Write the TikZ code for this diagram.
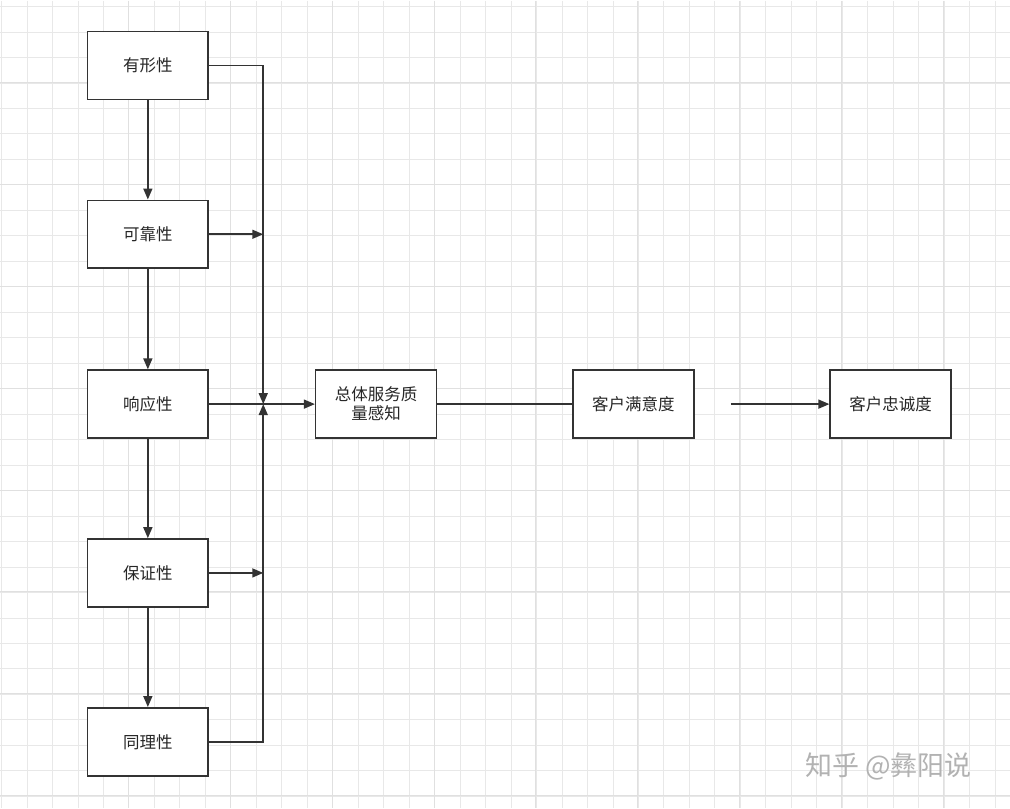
\documentclass[tikz,border=0pt]{standalone}
\usepackage{fontspec}
\setmainfont{Noto Sans CJK SC}
\usetikzlibrary{arrows.meta}
\begin{document}
\begin{tikzpicture}[x=1pt,y=-1pt,
  box/.style={draw=black!80,line width=1.6pt,fill=white,minimum width=121pt,minimum height=68pt,inner sep=0pt,align=center,font=\fontsize{16.5}{19}\selectfont,text=black!85},
  ln/.style={draw=black!80,line width=1.6pt},
  ar/.style={ln,-{Triangle[length=11pt,width=9pt]}}]
\fill[white] (0,0) rectangle (1010,808);
\foreach \x in {1,26.5,...,1010} \draw[black!9,line width=0.8pt] (\x,0) -- (\x,808);
\foreach \y in {6,31.5,...,808} \draw[black!9,line width=0.8pt] (0,\y) -- (1010,\y);
\foreach \x in {128,230,...,1010} \draw[black!12,line width=1pt] (\x,0) -- (\x,808);
\foreach \y in {82,184,...,808} \draw[black!12,line width=1pt] (0,\y) -- (1010,\y);
\useasboundingbox (0,0) rectangle (1010,808);
\node[box] (a) at (147.5,65) {有形性};
\node[box] (b) at (147.5,234) {可靠性};
\node[box] (c) at (147.5,404) {响应性};
\node[box] (d) at (147.5,573) {保证性};
\node[box] (e) at (147.5,742) {同理性};
\node[box] (t) at (376,404) {总体服务质\\量感知};
\node[box] (s) at (633.5,404) {客户满意度};
\node[box] (l) at (891,404) {客户忠诚度};
\coordinate (j) at (263,404);
\coordinate (jb) at (263,234);
\coordinate (jd) at (263,573);
\coordinate (f) at (731,404);
\draw[ar] (a) -- (b);
\draw[ar] (b) -- (c);
\draw[ar] (c) -- (d);
\draw[ar] (d) -- (e);
\draw[ar] (a.east) -| (j);
\draw[ar] (e.east) -| (j);
\draw[ar] (b.east) -- (jb);
\draw[ar] (d.east) -- (jd);
\draw[ar] (c.east) -- (t.west);
\draw[ln] (t.east) -- (s.west);
\draw[ar] (f) -- (l.west);
\node[font=\fontsize{27}{30}\selectfont,text=black!30] (w) at (889,767) {知乎 @彝阳说};
\end{tikzpicture}
\end{document}
